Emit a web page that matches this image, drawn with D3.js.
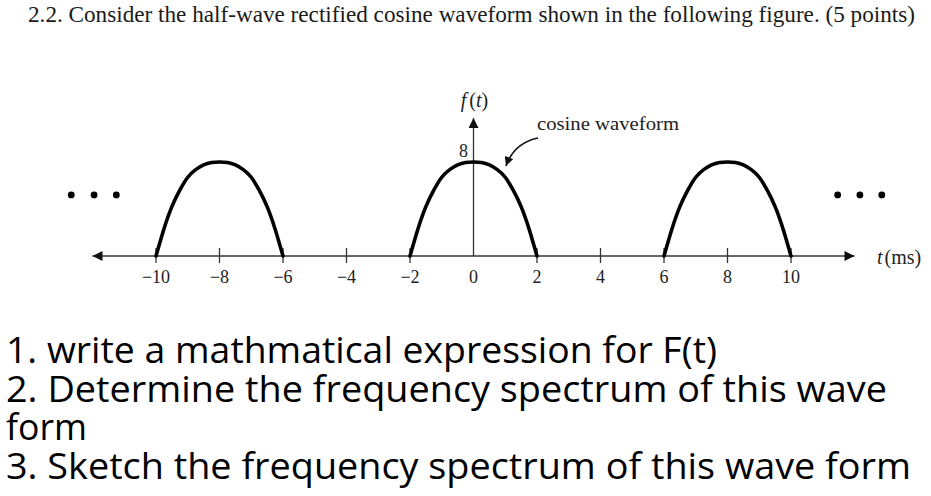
<!DOCTYPE html>
<html lang="en">
<head>
    <meta charset="UTF-8">
    <title>Half-wave rectified cosine</title>
    <style>
        body { margin: 0; background: #fff; }
        svg { display: block; }
        .question { font-family: "Open Sans", "Noto Sans", sans-serif; fill: #000; }
    </style>
</head>
<body>
    <div id="graph-container"></div>

    <script src="https://d3js.org/d3.v7.min.js"></script>
    <script>
        // tick values on the time axis (ms)
        const ticks = [-10, -8, -6, -4, -2, 0, 2, 4, 6, 8, 10];
        const tickLabels = ["\u221210", "\u22128", "\u22126", "\u22124", "\u22122", "0", "2", "4", "6", "8", "10"];
        // pulse centres (ms) and one arch
        const pulseCenters = [-8, 0, 8];
        const archOffsets = [-2, -1.75, -1.5, -1.25, -1, -0.75, -0.5, -0.25, 0, 0.25, 0.5, 0.75, 1, 1.25, 1.5, 1.75, 2];
        const archValues = [0, 2.3, 4.2, 5.6, 6.7, 7.35, 7.75, 7.95, 8, 7.95, 7.75, 7.35, 6.7, 5.6, 4.2, 2.3, 0];
        const peak = 8;
        // "..." continuation dots
        const dotsLeft = [-12.67, -11.95, -11.25];
        const dotsRight = [11.47, 12.17, 12.86];
        const dotLevel = 5.2;

        const title = "2.2. Consider the half-wave rectified cosine waveform shown in the following figure. (5 points)";
        const questions = [
            "1. write a mathmatical expression for F(t)",
            "2. Determine the frequency spectrum of this wave",
            "form",
            "3. Sketch the frequency spectrum of this wave form"
        ];
        const questionWidths = [711, 881, 81, 905];

        const serif = "'Liberation Serif', Tinos, 'Times New Roman', Times, serif";
        const width = 931;
        const height = 496;

        const svg = d3.select("#graph-container").append("svg")
            .attr("width", width)
            .attr("height", height);

        const x = d3.scaleLinear().domain([-10, 10]).range([156, 791]);
        const y = d3.scaleLinear().domain([0, 8]).range([256, 162]);

        // title
        svg.append("text")
            .attr("font-family", serif)
            .attr("x", 28)
            .attr("y", 22)
            .attr("font-size", 22.5)
            .attr("fill", "#1a1a1a")
            .attr("textLength", 887)
            .attr("lengthAdjust", "spacingAndGlyphs")
            .text(title);

        // arrow heads
        const defs = svg.append("defs");
        defs.append("marker")
            .attr("id", "arrow")
            .attr("viewBox", "0 0 10 10")
            .attr("refX", 10).attr("refY", 5)
            .attr("markerWidth", 15).attr("markerHeight", 10)
            .attr("markerUnits", "userSpaceOnUse")
            .attr("orient", "auto-start-reverse")
            .append("path")
            .attr("d", "M0,0 L10,5 L0,10 Z")
            .attr("fill", "#111");
        defs.append("marker")
            .attr("id", "arrowSmall")
            .attr("viewBox", "0 0 10 10")
            .attr("refX", 10).attr("refY", 5)
            .attr("markerWidth", 11).attr("markerHeight", 9)
            .attr("markerUnits", "userSpaceOnUse")
            .attr("orient", "auto")
            .append("path")
            .attr("d", "M0,0 L10,5 L0,10 Z")
            .attr("fill", "#111");

        // time axis
        svg.append("line")
            .attr("x1", x(-12)).attr("x2", x(12))
            .attr("y1", y(0)).attr("y2", y(0))
            .attr("stroke", "#333")
            .attr("stroke-width", 1.6)
            .attr("marker-start", "url(#arrow)")
            .attr("marker-end", "url(#arrow)");

        // f(t) axis
        svg.append("line")
            .attr("x1", x(0)).attr("x2", x(0))
            .attr("y1", y(0)).attr("y2", y(11.75))
            .attr("stroke", "#333")
            .attr("stroke-width", 1.3)
            .attr("marker-end", "url(#arrow)");

        // ticks
        svg.selectAll(".tick")
            .data(ticks.filter(d => d !== 0))
            .enter()
            .append("line")
            .attr("class", "tick")
            .attr("x1", d => x(d)).attr("x2", d => x(d))
            .attr("y1", y(0) - 8).attr("y2", y(0) + 7)
            .attr("stroke", "#333")
            .attr("stroke-width", 1.3);

        svg.selectAll(".tick-label")
            .data(ticks)
            .enter()
            .append("text")
            .attr("class", "tick-label")
            .attr("font-family", serif)
            .attr("x", d => x(d))
            .attr("y", 283)
            .attr("font-size", 18)
            .attr("text-anchor", "middle")
            .attr("fill", "#222")
            .text((d, i) => tickLabels[i]);

        // pulses
        const line = d3.line()
            .x(d => x(d[0]))
            .y(d => y(d[1]))
            .curve(d3.curveNatural);

        svg.selectAll(".pulse")
            .data(pulseCenters)
            .enter()
            .append("path")
            .attr("class", "pulse")
            .attr("d", c => line(archOffsets.map((o, i) => [c + o, archValues[i]])))
            .attr("fill", "none")
            .attr("stroke", "#000")
            .attr("stroke-width", 3.6)
            .attr("stroke-linecap", "round");

        // peak label
        svg.append("text")
            .attr("font-family", serif)
            .attr("x", x(0) - 10)
            .attr("y", y(peak) - 5)
            .attr("font-size", 18)
            .attr("text-anchor", "middle")
            .attr("fill", "#222")
            .text(peak);

        // f(t) label
        const fLabel = svg.append("text")
            .attr("font-family", serif)
            .attr("x", x(0) + 1)
            .attr("y", 107)
            .attr("font-size", 20)
            .attr("text-anchor", "middle")
            .attr("fill", "#222");
        fLabel.append("tspan").attr("font-style", "italic").text("f");
        fLabel.append("tspan").attr("dx", 3).text("(");
        fLabel.append("tspan").attr("font-style", "italic").text("t");
        fLabel.append("tspan").text(")");

        // t(ms) label
        const tLabel = svg.append("text")
            .attr("font-family", serif)
            .attr("x", 877)
            .attr("y", 264)
            .attr("font-size", 20)
            .attr("fill", "#222");
        tLabel.append("tspan").attr("font-style", "italic").text("t");
        tLabel.append("tspan").attr("dx", 2).text("(ms)");

        // annotation
        svg.append("text")
            .attr("font-family", serif)
            .attr("x", 537)
            .attr("y", 130)
            .attr("font-size", 19)
            .attr("fill", "#222")
            .attr("textLength", 142)
            .attr("lengthAdjust", "spacingAndGlyphs")
            .text("cosine waveform");

        svg.append("path")
            .attr("d", "M538,138 Q514,143 506,166")
            .attr("fill", "none")
            .attr("stroke", "#111")
            .attr("stroke-width", 1.6)
            .attr("marker-end", "url(#arrowSmall)");

        // continuation dots
        svg.selectAll(".dot")
            .data(dotsLeft.concat(dotsRight))
            .enter()
            .append("circle")
            .attr("class", "dot")
            .attr("cx", d => x(d))
            .attr("cy", y(dotLevel))
            .attr("r", 3.4)
            .attr("fill", "#000");

        // questions
        svg.selectAll(".question")
            .data(questions)
            .enter()
            .append("text")
            .attr("class", "question")
            .attr("x", 6)
            .attr("y", (d, i) => 363 + i * 38.5)
            .attr("font-size", 37)
            .attr("textLength", (d, i) => questionWidths[i])
            .attr("lengthAdjust", "spacingAndGlyphs")
            .text(d => d);
    </script>
</body>
</html>
